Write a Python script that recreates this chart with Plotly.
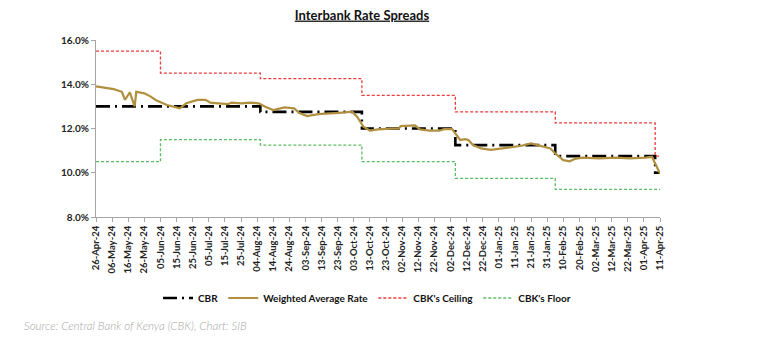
import pandas as pd
import plotly.graph_objects as go

# ---------------- data ----------------
war_dates = ["2024-04-26", "2024-05-01", "2024-05-07", "2024-05-12", "2024-05-14", "2024-05-17",
             "2024-05-20", "2024-05-21", "2024-05-26", "2024-05-30", "2024-06-02", "2024-06-09",
             "2024-06-14", "2024-06-17", "2024-06-21", "2024-06-28", "2024-07-03", "2024-07-06",
             "2024-07-11", "2024-07-17", "2024-07-19", "2024-07-25", "2024-07-31", "2024-08-05",
             "2024-08-09", "2024-08-14", "2024-08-21", "2024-08-27", "2024-08-30", "2024-09-04",
             "2024-09-11", "2024-09-15", "2024-09-18", "2024-09-24", "2024-10-02", "2024-10-05",
             "2024-10-09", "2024-10-13", "2024-10-18", "2024-10-26", "2024-10-31", "2024-11-01",
             "2024-11-10", "2024-11-13", "2024-11-19", "2024-11-25", "2024-11-28", "2024-12-03",
             "2024-12-05", "2024-12-08", "2024-12-11", "2024-12-13", "2024-12-16", "2024-12-21",
             "2024-12-27", "2025-01-02", "2025-01-09", "2025-01-15", "2025-01-21", "2025-01-27",
             "2025-02-02", "2025-02-05", "2025-02-10", "2025-02-14", "2025-02-17", "2025-02-22",
             "2025-03-04", "2025-03-15", "2025-03-23", "2025-04-02", "2025-04-06", "2025-04-08",
             "2025-04-11"]
war_vals = [13.90, 13.85, 13.78, 13.66, 13.30, 13.63,
            13.00, 13.66, 13.59, 13.44, 13.29, 13.06,
            12.98, 12.91, 13.14, 13.29, 13.30, 13.17,
            13.14, 13.10, 13.17, 13.14, 13.17, 13.14,
            12.98, 12.83, 12.95, 12.91, 12.71, 12.56,
            12.65, 12.68, 12.68, 12.71, 12.76, 12.53,
            12.08, 11.90, 11.96, 11.99, 12.00, 12.11,
            12.14, 11.96, 11.90, 11.90, 11.97, 11.97,
            11.78, 11.48, 11.52, 11.48, 11.25, 11.10,
            11.03, 11.10, 11.18, 11.22, 11.33, 11.22,
            11.10, 10.87, 10.57, 10.52, 10.62, 10.68,
            10.65, 10.68, 10.65, 10.68, 10.72, 10.42,
            9.97]

step_dates = ["2024-04-26", "2024-06-05", "2024-08-06", "2024-10-08", "2024-12-05",
              "2025-02-05", "2025-04-08", "2025-04-11"]
cbr_vals = [13.00, 13.00, 12.75, 12.00, 11.25, 10.75, 10.00, 10.00]
ceiling_vals = [15.50, 14.50, 14.25, 13.50, 12.75, 12.25, 10.75, 10.75]
floor_vals = [10.50, 11.50, 11.25, 10.50, 9.75, 9.25, 9.25, 9.25]

tick_labels = ["26-Apr-24", "06-May-24", "16-May-24", "26-May-24", "05-Jun-24", "15-Jun-24",
               "25-Jun-24", "05-Jul-24", "15-Jul-24", "25-Jul-24", "04-Aug-24", "14-Aug-24",
               "24-Aug-24", "03-Sep-24", "13-Sep-24", "23-Sep-24", "03-Oct-24", "13-Oct-24",
               "23-Oct-24", "02-Nov-24", "12-Nov-24", "22-Nov-24", "02-Dec-24", "12-Dec-24",
               "22-Dec-24", "01-Jan-25", "11-Jan-25", "21-Jan-25", "31-Jan-25", "10-Feb-25",
               "20-Feb-25", "02-Mar-25", "12-Mar-25", "22-Mar-25", "01-Apr-25", "11-Apr-25"]
y_ticks = [8.0, 10.0, 12.0, 14.0, 16.0]

# ---------------- figure ----------------
# the page body adds an 8px offset, so the figure is 8px smaller and positions shifted by 8
OFF = 8
W, H = 768 - OFF, 356 - OFF
ML, MR, MT, MB = 96 - OFF, 108, 40 - OFF, 139
FONT = "Lato, 'Open Sans', Arial, sans-serif"

war_x = pd.to_datetime(war_dates)
step_x = pd.to_datetime(step_dates)
tick_x = pd.to_datetime(tick_labels, format="%d-%b-%y")

fig = go.Figure()
fig.add_trace(go.Scatter(x=step_x, y=cbr_vals, name="<b>CBR</b>", mode="lines",
                         line=dict(color="#000000", width=2.6, dash="14px,5px,2px,5px", shape="hv"),
                         legendrank=1))
fig.add_trace(go.Scatter(x=step_x, y=floor_vals, name="<b>CBK's Floor</b>", mode="lines",
                         line=dict(color="#5DBB63", width=1.3, dash="3px,2px", shape="hv"),
                         legendrank=4))
fig.add_trace(go.Scatter(x=step_x, y=ceiling_vals, name="<b>CBK's Ceiling</b>", mode="lines",
                         line=dict(color="#EE3B3B", width=1.3, dash="3px,2px", shape="hv"),
                         legendrank=3))
fig.add_trace(go.Scatter(x=war_x, y=war_vals, name="<b>Weighted Average Rate</b>", mode="lines",
                         line=dict(color="#B0903F", width=2.2), legendrank=2))

fig.update_layout(
    width=W, height=H,
    margin=dict(l=ML, r=MR, t=MT, b=MB, autoexpand=False),
    paper_bgcolor="white", plot_bgcolor="white",
    font=dict(family=FONT, color="#222222"),
    title=dict(text="<b><u>Interbank Rate Spreads</u></b>", x=(362 - OFF) / W, xref="container",
               xanchor="center", y=1 - (15 - OFF) / H, yref="container", yanchor="middle",
               font=dict(size=13, color="#111111", family=FONT)),
    legend=dict(orientation="h", x=(367 - OFF) / W, xref="container", xanchor="center",
                y=1 - (298 - OFF) / H, yref="container", yanchor="middle",
                traceorder="normal", font=dict(size=10, color="#111111", family=FONT),
                itemwidth=30, tracegroupgap=0),
    showlegend=True,
)

fig.update_xaxes(
    range=[tick_x[0], tick_x[-1]], automargin=False,
    tickvals=tick_x, ticktext=[f"<b>{t}</b>" for t in tick_labels], tickangle=-90,
    tickfont=dict(size=9.5, color="#222222", family=FONT),
    showline=True, linecolor="#A6A6A6", linewidth=1,
    ticks="outside", ticklen=4, tickcolor="#A6A6A6",
    showgrid=False, zeroline=False,
)
fig.update_yaxes(
    range=[8, 16], automargin=False,
    tickvals=y_ticks, ticktext=[f"<b>{v:.1f}%</b>" for v in y_ticks],
    tickfont=dict(size=10, color="#222222", family=FONT),
    showline=True, linecolor="#A6A6A6", linewidth=1,
    ticks="outside", ticklen=4, tickcolor="#A6A6A6",
    showgrid=False, zeroline=False,
)

plot_w = W - ML - MR
plot_h = H - MT - MB
fig.add_annotation(
    text="<i>Source: Central Bank of Kenya (CBK), Chart: SIB</i>",
    xref="paper", yref="paper",
    x=(22 - OFF - ML) / plot_w, y=(H - MB - (325 - OFF)) / plot_h,
    xanchor="left", yanchor="middle", showarrow=False,
    font=dict(size=11.5, color="#A6A6A6", family="Lato Light, Lato, sans-serif"),
)

fig.write_html("out.html")
